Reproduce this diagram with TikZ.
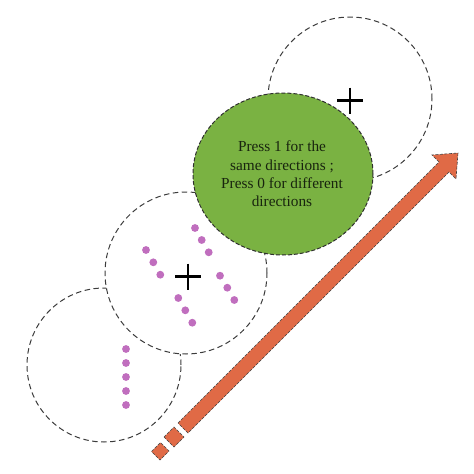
\documentclass[tikz,border=0pt]{standalone}
\usepackage{fontspec}
\setmainfont{Liberation Serif}
\definecolor{dotc}{RGB}{192,110,190}
\definecolor{greenf}{RGB}{122,178,66}
\definecolor{arrowf}{RGB}{224,106,70}
\definecolor{edgec}{RGB}{60,60,60}
\definecolor{textc}{RGB}{24,36,14}
\tikzset{
  ring/.style={draw=edgec, line width=1pt, dash pattern=on 5.5pt off 3.5pt, fill=white},
  blob/.style={draw=edgec!80!black, line width=1pt, dash pattern=on 4pt off 2pt, fill=greenf},
  pdot/.style={fill=dotc, draw=none},
  crossline/.style={draw=black, line width=2.6pt},
  arrowpart/.style={fill=arrowf, draw=black!75, line width=0.6pt, dash pattern=on 3pt off 1.5pt},
}
\begin{document}
\begin{tikzpicture}[x=1pt,y=-1pt]
\useasboundingbox (0,0) rectangle (474,474);
% circles
\coordinate (c1) at (104,365);
\coordinate (c2) at (186,273);
\coordinate (c4) at (350,99);
\coordinate (c3) at (283,174);
\path[ring] (c1) circle[radius=77pt];
\path[ring] (c2) circle[radius=81pt];
\path[ring] (c4) circle[radius=82pt];
\path[blob] (c3) ellipse[x radius=90pt, y radius=81pt];
% text
\node[text=textc, align=center, font=\fontsize{15.3}{18.3}\selectfont] (txt) at (282,174)
  {Press 1 for the\\same directions ;\\Press 0 for different\\directions};
% crosses
\draw[crossline] (337,100.5) -- (363,100.5) (350,87.5) -- (350,113.5);
\draw[crossline] (175,276.5) -- (201,276.5) (188,263.5) -- (188,289.5);
% dots bottom circle
\foreach \y in {349,363,377,391,405} \fill[pdot] (126,\y) circle[radius=3.9pt];
% dots middle circle
\foreach \p in {(195,228),(201.7,240),(208.7,252.3),
                (146,250),(153.3,262.3),(160.3,274.7),
                (220,275.7),(227.3,287.7),(234.3,300),
                (178.3,298),(185.3,310.3),(192.3,322.7)}
  \fill[pdot] \p circle[radius=3.9pt];
% arrow
\path[arrowpart] (178,423) -- (439,162) -- (432,155) -- (458,153) -- (456,179) -- (449,172) -- (188,433) -- cycle;
\path[arrowpart] (164,437) -- (174,427) -- (184,437) -- (174,447) -- cycle;
\path[arrowpart] (151.5,451.5) -- (160.5,442.5) -- (169,451) -- (160,460) -- cycle;
\end{tikzpicture}
\end{document}
